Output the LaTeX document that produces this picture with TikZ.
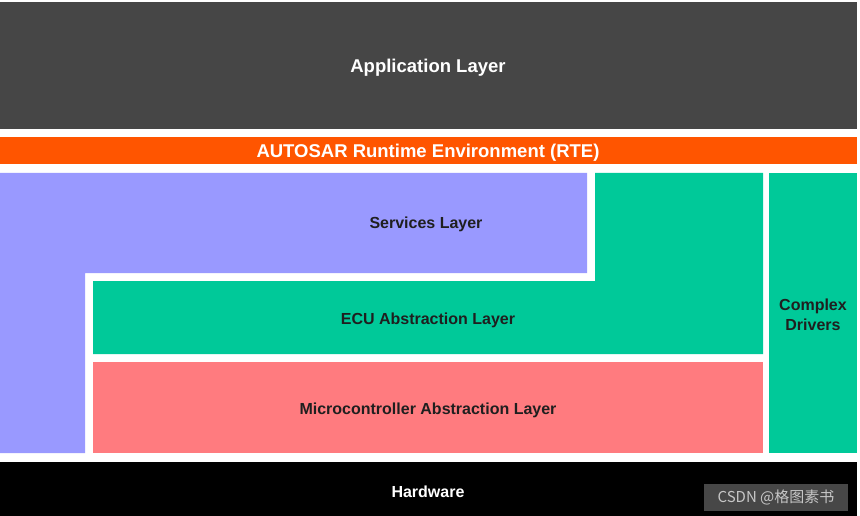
\documentclass[tikz,border=0pt]{standalone}
\usepackage{fontspec}
\setmainfont{Liberation Sans}
\newfontfamily\cjkfont{Noto Sans CJK SC}
\definecolor{appgray}{HTML}{464646}
\definecolor{rteorange}{HTML}{FF5500}
\definecolor{svcpurple}{HTML}{9999FF}
\definecolor{ecugreen}{HTML}{00C999}
\definecolor{mcalpink}{HTML}{FF7B7F}

\begin{document}
\begin{tikzpicture}[x=1pt,y=-1pt,
  lbl/.style={font=\bfseries\fontsize{16}{20}\selectfont,text=black!88},
  toplbl/.style={font=\bfseries\fontsize{18.5}{22}\selectfont,text=white}]
  \useasboundingbox[fill=white] (0,0) rectangle (860,516);
  \fill[appgray] (0,2) rectangle (857,129);
  \fill[rteorange] (0,137) rectangle (857,164);
  \fill[svcpurple] (0,173) -- (587,173) -- (587,273) -- (85,273) -- (85,453) -- (0,453) -- cycle;
  \fill[ecugreen] (595,173) -- (763,173) -- (763,354) -- (93,354) -- (93,281) -- (595,281) -- cycle;
  \fill[mcalpink] (93,362) rectangle (763,453);
  \fill[ecugreen] (769,173) rectangle (857,453);
  \fill[black] (0,462) rectangle (857,516);
  \node[toplbl] (app) at (428,68) {Application Layer};
  \node[toplbl] (rte) at (428,153) {AUTOSAR Runtime Environment (RTE)};
  \node[lbl] (svc) at (426,224) {Services Layer};
  \node[lbl] (ecu) at (428,320) {ECU Abstraction Layer};
  \node[lbl] (mcal) at (428,410) {Microcontroller Abstraction Layer};
  \node[lbl,align=center] (cdd) at (813,315) {Complex\\Drivers};
  \node[lbl,text=white] (hw) at (428,492) {Hardware};
  \fill[black!72] (704,484) rectangle (848,511);
  \node[font=\cjkfont\fontsize{15}{18}\selectfont,text=black!22] (wm) at (776,497) {CSDN @格图素书};
\end{tikzpicture}
\end{document}
